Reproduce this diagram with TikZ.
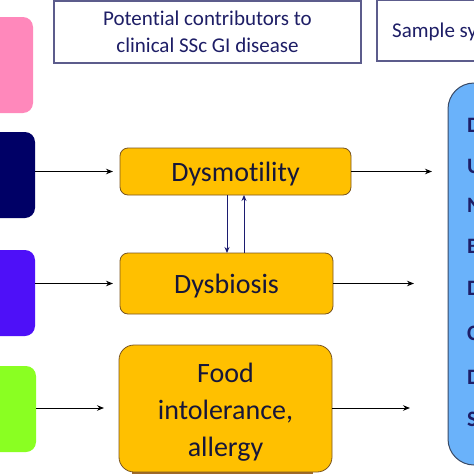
\documentclass[tikz,border=0pt]{standalone}
\usepackage{fontspec}
\setmainfont{Carlito}[Ligatures=NoCommon]
\usetikzlibrary{arrows.meta}
\definecolor{pinkc}{HTML}{FF88BB}
\definecolor{navyc}{HTML}{000066}
\definecolor{violc}{HTML}{4E10F8}
\definecolor{greenc}{HTML}{8AFF22}
\definecolor{orangec}{HTML}{FFC000}
\definecolor{oborder}{HTML}{7A5520}
\definecolor{otext}{HTML}{16163A}
\definecolor{bluec}{HTML}{6AB2FA}
\definecolor{bborder}{HTML}{3A4A66}
\definecolor{ttext}{HTML}{1E1E66}
\definecolor{tborder}{HTML}{5C5C8C}
\definecolor{vline}{HTML}{1C1C70}
\definecolor{brownc}{HTML}{A06A2C}
\begin{document}
\begin{tikzpicture}[x=1pt,y=-1pt,
  srcbox/.style={rectangle, rounded corners=10pt, minimum width=#1, minimum height=86pt, inner sep=0pt, outer sep=0pt},
  obox/.style={rectangle, draw=oborder, line width=0.8pt, fill=orangec, rounded corners=8pt, inner sep=0pt, outer sep=0pt, text=otext, font=\fontsize{28}{30}\selectfont, align=center},
  tbox/.style={rectangle, draw=tborder, line width=1.1pt, fill=white, inner sep=0pt, outer sep=0pt, text=ttext, font=\fontsize{21}{27}\selectfont, align=center},
  arr/.style={-{Stealth[length=7pt,width=5.5pt]}, line width=0.9pt, black},
  varr/.style={-{Stealth[length=6pt,width=5pt]}, line width=0.9pt, vline},
  letter/.style={anchor=west, inner sep=0pt, text=ttext, font=\bfseries\fontsize{22}{24}\selectfont}
]
\useasboundingbox (0,0) rectangle (474,474);
\clip (0,0) rectangle (474,474);
\fill[white] (0,0) rectangle (474,474);

% top boxes
\node[tbox, minimum width=307pt, minimum height=62pt] (title) at (207.5,32) {Potential contributors to\\clinical SSc GI disease};
\node[tbox, minimum width=200pt, minimum height=61pt] (sample) at (477,30.5) {};
\node[anchor=west, inner sep=0pt, text=ttext, font=\fontsize{21}{24}\selectfont] (sampletxt) at (392,32) {Sample sy};

% left source boxes
\node[srcbox=44pt, fill=pinkc, minimum height=96pt] (pink) at (11,65) {};
\node[srcbox=45pt, fill=navyc] (navy) at (12.5,175) {};
\node[srcbox=45pt, fill=violc] (viol) at (12.5,293) {};
\node[srcbox=46pt, fill=greenc] (green) at (13,409) {};

% brown box below food
\fill[brownc] (132,471) rectangle (313,480);

% orange boxes
\node[obox, text depth=0pt, minimum width=231pt, minimum height=47pt] (dys) at (235.5,171.5) {Dysmotility};
\node[obox, text depth=0pt, minimum width=213pt, minimum height=61pt] (dysb) at (226.5,283.5) {Dysbiosis};
\node[obox, rounded corners=15pt, minimum width=213pt, minimum height=127pt, font=\fontsize{28}{37}\selectfont] (food) at (225.5,408.5) {\strut Food\\intolerance,\\allergy};

% blue symptoms box
\node[rectangle, rounded corners=26pt, draw=bborder, line width=1pt, fill=bluec, minimum width=100pt, minimum height=382pt, inner sep=0pt, outer sep=0pt] (symp) at (498,274) {};
\node[letter] (l1) at (467,125) {D};
\node[letter] (l2) at (467,166) {U};
\node[letter] (l3) at (467,205) {N};
\node[letter] (l4) at (467,246) {B};
\node[letter] (l5) at (467,288) {D};
\node[letter] (l6) at (467,333) {C};
\node[letter] (l7) at (467,377) {D};
\node[letter] (l8) at (467,419) {S};

% arrows from sources
\draw[arr, shorten >=7pt] (navy.east |- dys.west) -- (dys.west);
\draw[arr, shorten >=7pt] (viol.east |- dysb.west) -- (dysb.west);
\draw[arr, shorten >=15pt] (green.east |- 0,408) -- (food.west |- 0,408);

% vertical arrows
\draw[varr] ([xshift=-8.5pt]dys.south) -- ([xshift=-8.5pt]dys.south |- dysb.north);
\draw[varr] ([xshift=8.5pt]dys.south |- dysb.north) -- ([xshift=8.5pt]dys.south);

% arrows to symptoms
\coordinate (e1) at (432,171.5);
\coordinate (e2) at (414,283.5);
\coordinate (e3) at (410,408);
\draw[arr] (dys.east) -- (e1);
\draw[arr] (dysb.east) -- (e2);
\draw[arr] (food.east |- e3) -- (e3);
\end{tikzpicture}
\end{document}
